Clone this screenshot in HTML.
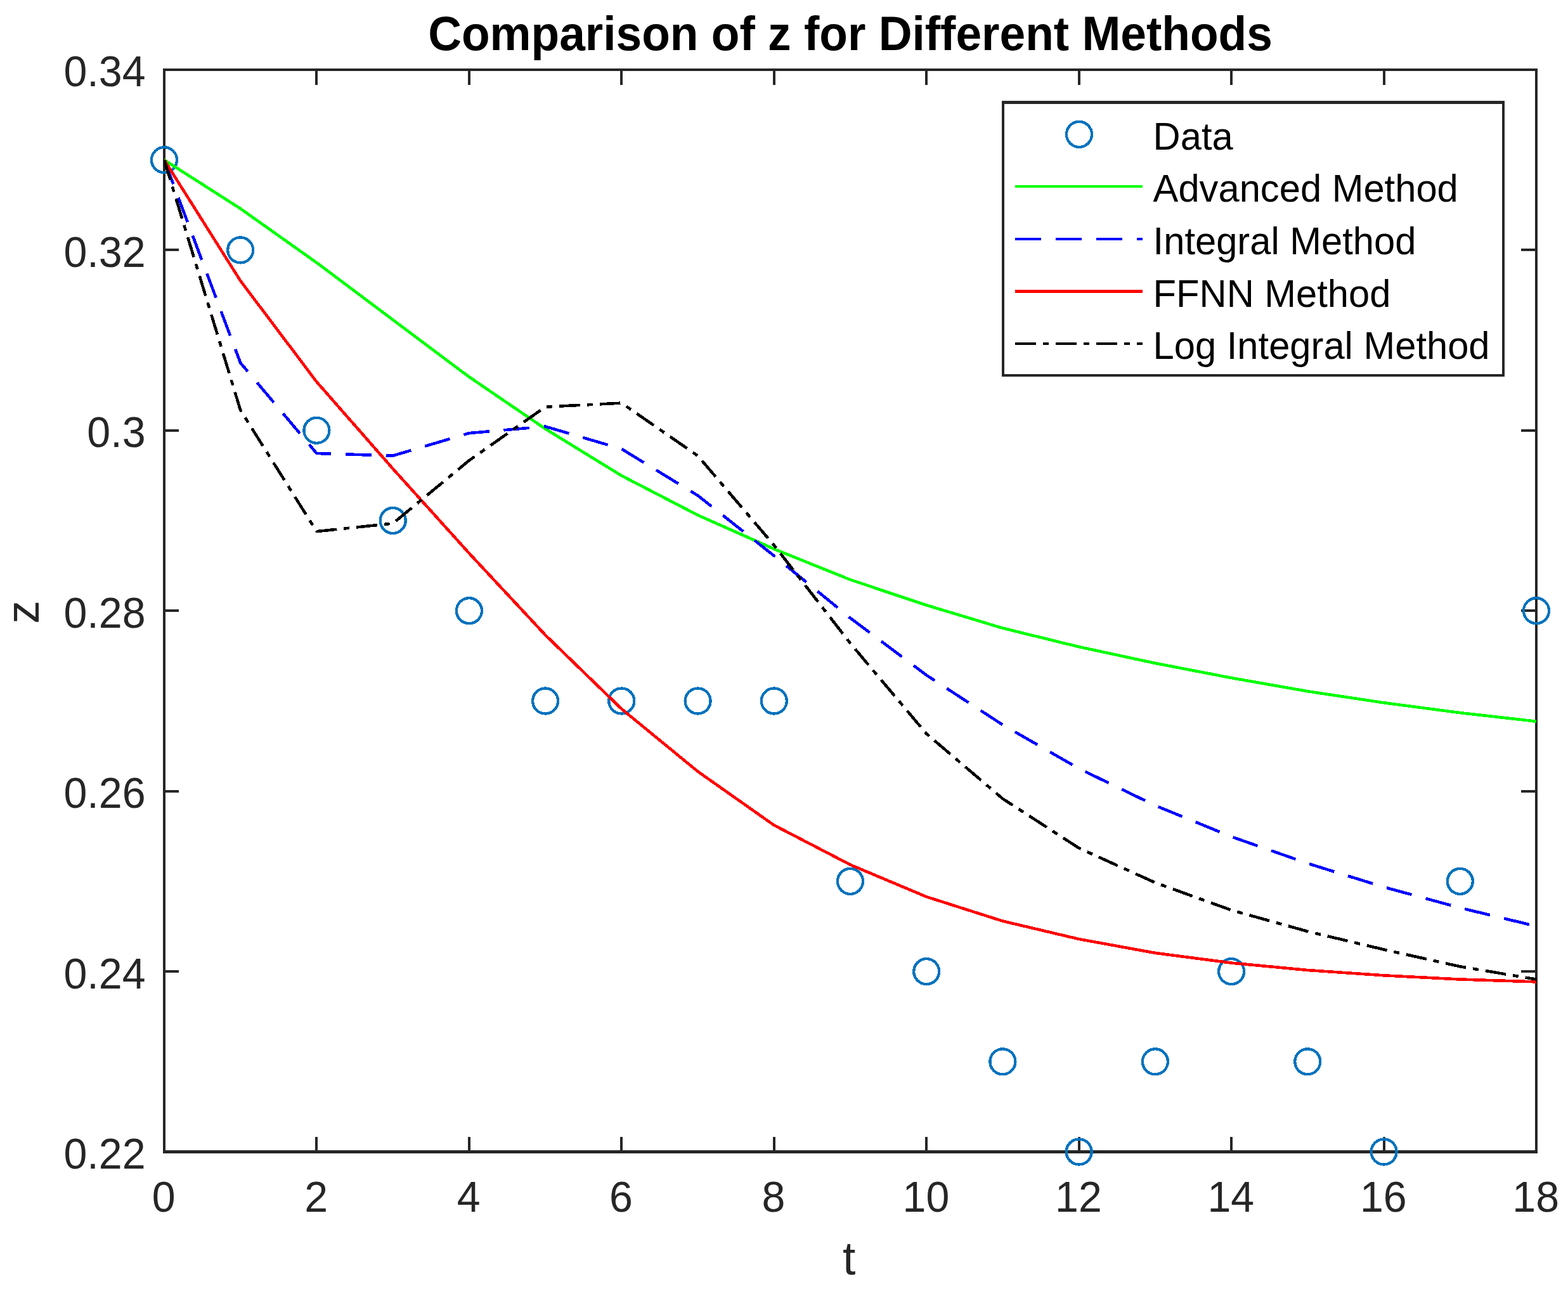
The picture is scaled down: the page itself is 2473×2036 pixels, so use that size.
<!DOCTYPE html>
<html lang="en"><head><meta charset="utf-8"><title>Comparison of z for Different Methods</title>
<style>html,body{margin:0;padding:0;background:#fff}body{width:2473px;height:2036px;overflow:hidden}svg{display:block}text{font-family:"Liberation Sans",sans-serif}</style>
</head><body>
<svg width="2473" height="2036" viewBox="0 0 2473 2036">
<rect width="2473" height="2036" fill="#fff"/>
<g fill="#262626" shape-rendering="crispEdges">
<rect x="257" y="108" width="2168" height="4"/>
<rect x="257" y="1814" width="2168" height="5"/>
<rect x="257" y="108" width="4" height="1711"/>
<rect x="2421" y="108" width="4" height="1711"/>
<rect x="497" y="1793" width="4" height="21"/>
<rect x="497" y="112" width="4" height="22"/>
<rect x="738" y="1793" width="4" height="21"/>
<rect x="738" y="112" width="4" height="22"/>
<rect x="978" y="1793" width="4" height="21"/>
<rect x="978" y="112" width="4" height="22"/>
<rect x="1219" y="1793" width="4" height="21"/>
<rect x="1219" y="112" width="4" height="22"/>
<rect x="1459" y="1793" width="4" height="21"/>
<rect x="1459" y="112" width="4" height="22"/>
<rect x="1700" y="1793" width="4" height="21"/>
<rect x="1700" y="112" width="4" height="22"/>
<rect x="1940" y="1793" width="4" height="21"/>
<rect x="1940" y="112" width="4" height="22"/>
<rect x="2181" y="1793" width="4" height="21"/>
<rect x="2181" y="112" width="4" height="22"/>
<rect x="261" y="1530" width="21" height="4"/>
<rect x="2399" y="1530" width="22" height="4"/>
<rect x="261" y="1246" width="21" height="4"/>
<rect x="2399" y="1246" width="22" height="4"/>
<rect x="261" y="961" width="21" height="4"/>
<rect x="2399" y="961" width="22" height="4"/>
<rect x="261" y="677" width="21" height="4"/>
<rect x="2399" y="677" width="22" height="4"/>
<rect x="261" y="392" width="21" height="4"/>
<rect x="2399" y="392" width="22" height="4"/>
</g>
<g fill="#262626" font-size="66.3px" text-anchor="middle">
<text transform="translate(258.2,1911.3) scale(1,1.04)">0</text>
<text transform="translate(498.6,1911.3) scale(1,1.04)">2</text>
<text transform="translate(739.1,1911.3) scale(1,1.04)">4</text>
<text transform="translate(979.5,1911.3) scale(1,1.04)">6</text>
<text transform="translate(1220.0,1911.3) scale(1,1.04)">8</text>
<text transform="translate(1460.4,1911.3) scale(1,1.04)">10</text>
<text transform="translate(1700.9,1911.3) scale(1,1.04)">12</text>
<text transform="translate(1941.3,1911.3) scale(1,1.04)">14</text>
<text transform="translate(2181.8,1911.3) scale(1,1.04)">16</text>
<text transform="translate(2422.2,1911.3) scale(1,1.04)">18</text>
</g>
<g fill="#262626" font-size="66.3px" text-anchor="end">
<text transform="translate(229.5,1842.9) scale(1,1.04)">0.22</text>
<text transform="translate(229.5,1558.5) scale(1,1.04)">0.24</text>
<text transform="translate(229.5,1274.1) scale(1,1.04)">0.26</text>
<text transform="translate(229.5,989.6) scale(1,1.04)">0.28</text>
<text transform="translate(229.5,705.2) scale(1,1.04)">0.3</text>
<text transform="translate(229.5,420.8) scale(1,1.04)">0.32</text>
<text transform="translate(229.5,136.4) scale(1,1.04)">0.34</text>
</g>
<text x="1339.2" y="2009.6" fill="#262626" font-size="73.33px" text-anchor="middle">t</text>
<text transform="translate(60.8,965.3) rotate(-90)" fill="#262626" font-size="73.33px" text-anchor="middle">z</text>
<text transform="translate(1341,79.3) scale(1,1.03)" fill="#000" font-size="73.1px" font-weight="bold" text-anchor="middle">Comparison of z for Different Methods</text>
<defs><clipPath id="c"><rect x="259" y="108" width="2166" height="1711"/></clipPath></defs>
<g fill="none" stroke="#0072bd" stroke-width="4.3" shape-rendering="crispEdges">
<circle cx="259.0" cy="252.2" r="20"/>
<circle cx="379.2" cy="394.4" r="20"/>
<circle cx="499.4" cy="678.8" r="20"/>
<circle cx="619.7" cy="821.0" r="20"/>
<circle cx="739.9" cy="963.2" r="20"/>
<circle cx="860.1" cy="1105.5" r="20"/>
<circle cx="980.3" cy="1105.5" r="20"/>
<circle cx="1100.6" cy="1105.5" r="20"/>
<circle cx="1220.8" cy="1105.5" r="20"/>
<circle cx="1341.0" cy="1389.9" r="20"/>
<circle cx="1461.2" cy="1532.1" r="20"/>
<circle cx="1581.4" cy="1674.3" r="20"/>
<circle cx="1701.7" cy="1816.5" r="20"/>
<circle cx="1821.9" cy="1674.3" r="20"/>
<circle cx="1942.1" cy="1532.1" r="20"/>
<circle cx="2062.3" cy="1674.3" r="20"/>
<circle cx="2182.6" cy="1816.5" r="20"/>
<circle cx="2302.8" cy="1389.9" r="20"/>
<circle cx="2423.0" cy="963.2" r="20"/>
</g>
<g fill="none" stroke-width="4.6" stroke-linejoin="round" stroke-linecap="butt" clip-path="url(#c)" shape-rendering="crispEdges">
<polyline stroke="#00ff00" points="259.0,252.2 379.2,329.0 499.4,414.3 619.7,504.5 739.9,594.4 860.1,676.3 980.3,750.2 1100.6,812.4 1220.8,865.8 1341.0,914.2 1461.2,954.4 1581.4,990.6 1701.7,1020.1 1821.9,1045.9 1942.1,1069.1 2062.3,1090.2 2182.6,1108.3 2302.8,1124.1 2423.0,1137.7"/>
<polyline stroke="#0000ff" stroke-dasharray="40.95 22.82" points="259.0,252.2 379.2,572.2 499.4,715.0 619.7,718.7 739.9,683.1 860.1,672.6 980.3,708.0 1100.6,781.5 1220.8,876.5 1341.0,974.6 1461.2,1064.8 1581.4,1143.1 1701.7,1212.1 1821.9,1270.3 1942.1,1319.5 2062.3,1361.6 2182.6,1399.0 2302.8,1431.7 2423.0,1460.7"/>
<polyline stroke="#ff0000" points="259.0,252.2 379.2,442.8 499.4,602.2 619.7,739.3 739.9,872.5 860.1,1001.5 980.3,1118.0 1100.6,1216.7 1220.8,1301.4 1341.0,1363.7 1461.2,1414.3 1581.4,1452.6 1701.7,1481.0 1821.9,1502.9 1942.1,1518.6 2062.3,1530.0 2182.6,1538.3 2302.8,1544.5 2423.0,1548.4"/>
<polyline stroke="#000000" stroke-dasharray="32.88 10.96 8.97 10.96" points="259.0,252.2 379.2,646.8 499.4,838.1 619.7,825.5 739.9,726.2 860.1,641.7 980.3,635.6 1100.6,718.9 1220.8,859.9 1341.0,1014.4 1461.2,1157.2 1581.4,1259.6 1701.7,1337.5 1821.9,1392.0 1942.1,1435.4 2062.3,1468.9 2182.6,1497.5 2302.8,1524.3 2423.0,1544.5"/>
</g>
<g shape-rendering="crispEdges">
<rect x="1580" y="159" width="793" height="435" fill="#262626"/>
<rect x="1584" y="164" width="785" height="426" fill="#fff"/>
</g>
<circle cx="1702" cy="211.9" r="20" fill="none" stroke="#0072bd" stroke-width="4.3" shape-rendering="crispEdges"/>
<g fill="none" shape-rendering="crispEdges">
<line x1="1601" y1="294" x2="1802" y2="294" stroke="#00ff00" stroke-width="4"/>
<line x1="1601" y1="377" x2="1802" y2="377" stroke="#0000ff" stroke-width="4" stroke-dasharray="41 23"/>
<line x1="1601" y1="459.5" x2="1802" y2="459.5" stroke="#ff0000" stroke-width="5"/>
<line x1="1601" y1="542" x2="1802" y2="542" stroke="#000000" stroke-width="4" stroke-dasharray="33 11 9 11"/>
</g>
<g fill="#000" font-size="59.7px">
<text transform="translate(1818.6,236.0) scale(1,1.03)">Data</text>
<text transform="translate(1818.6,318.1) scale(1,1.03)">Advanced Method</text>
<text transform="translate(1818.6,400.9) scale(1,1.03)">Integral Method</text>
<text transform="translate(1818.6,483.6) scale(1,1.03)">FFNN Method</text>
<text transform="translate(1818.6,566.0) scale(1,1.03)">Log Integral Method</text>
</g>
</svg>
</body></html>
